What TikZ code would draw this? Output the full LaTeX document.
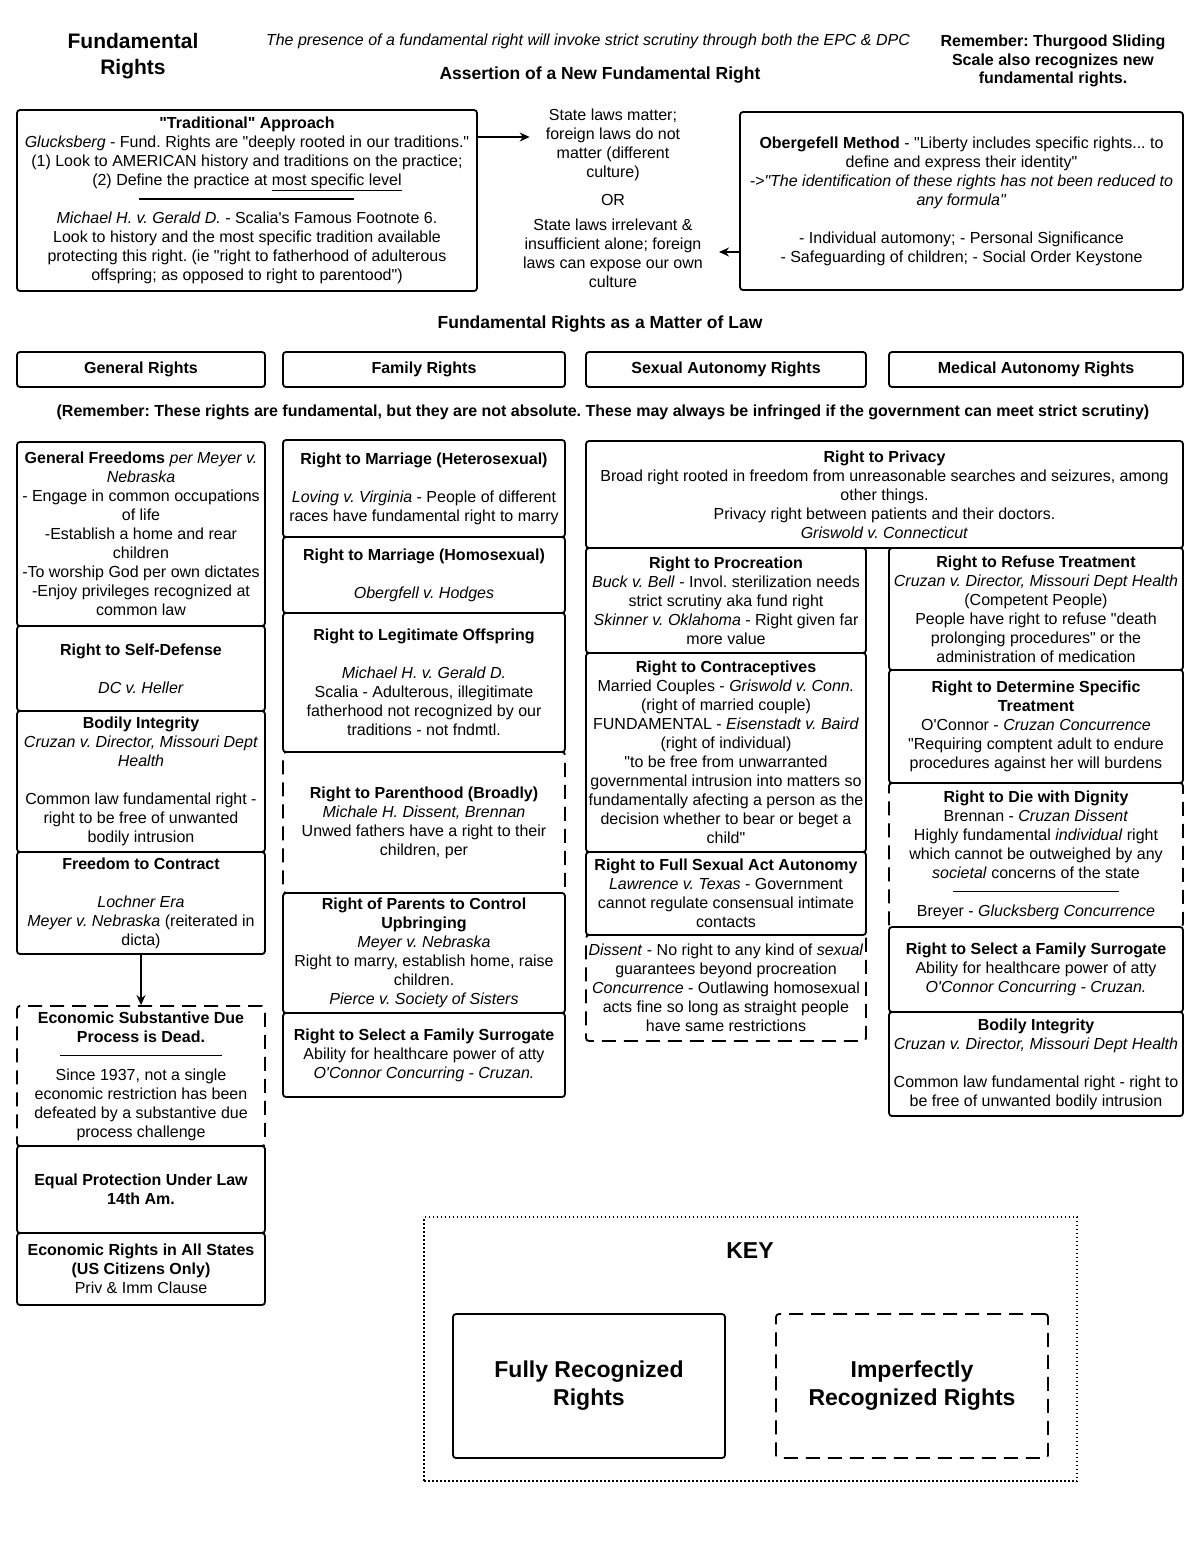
\documentclass[tikz,border=0pt]{standalone}
\usepackage{fontspec}
\setmainfont{Liberation Sans}[Ligatures=TeXOff]
\usetikzlibrary{arrows.meta}
\frenchspacing
\newcommand{\mybody}{\fontsize{16}{19}\selectfont}
\newcommand{\mysep}[1]{\rule[5pt]{#1}{1.2pt}}
\tikzset{
  box/.style={draw, line width=1.8pt, rounded corners=3pt, align=center, inner sep=2pt, font=\mybody},
  dbox/.style={box, dash pattern=on 14pt off 8pt},
  hdrbox/.style={box, font=\mybody\bfseries},
  txt/.style={align=center, inner sep=0pt, font=\mybody},
  arr/.style={line width=1.6pt, -{Stealth[length=10pt,width=9pt]}},
}
\begin{document}
\begin{tikzpicture}[x=1pt,y=-1pt]
\useasboundingbox (0,0) rectangle (1200,1553);
\fill[white] (0,0) rectangle (1200,1553);

% ---------- top ----------
\node[txt, font=\fontsize{21}{26}\selectfont\bfseries] (title) at (133,56) {Fundamental\\Rights};
\node[txt, font=\mybody\itshape] (intro) at (588,41) {The presence of a fundamental right will invoke strict scrutiny through both the EPC \& DPC};
\node[txt, font=\fontsize{17.5}{21}\selectfont\bfseries] (assert) at (600,75) {Assertion of a New Fundamental Right};
\node[txt, font=\fontsize{16}{18.5}\selectfont\bfseries] (thur) at (1053,61) {Remember: Thurgood Sliding\\Scale also recognizes new\\fundamental rights.};

\node[box, minimum width=460pt, minimum height=181pt] (trad) at (247,200.5) {%
\textbf{"Traditional" Approach}\\
\textit{Glucksberg} - Fund. Rights are "deeply rooted in our traditions."\\
(1) Look to AMERICAN history and traditions on the practice;\\
(2) Define the practice at \underline{most specific level}\\
\mysep{215pt}\\
\textit{Michael H. v. Gerald D.} - Scalia's Famous Footnote 6.\\
Look to history and the most specific tradition available\\
protecting this right. (ie "right to fatherhood of adulterous\\
offspring; as opposed to right to parentood")};

\node[txt, inner xsep=16pt] (m1) at (613,144.5) {State laws matter;\\foreign laws do not\\matter (different\\culture)};
\node[txt] (orn) at (613,200) {OR};
\node[txt, inner xsep=16pt] (m2) at (613,253.5) {State laws irrelevant \&\\insufficient alone; foreign\\laws can expose our own\\culture};

\node[box, minimum width=443pt, minimum height=178pt] (ob) at (961.5,201) {%
\textbf{Obergefell Method} - "Liberty includes specific rights... to\\
define and express their identity"\\
\textit{->"The identification of these rights has not been reduced to}\\
\textit{any formula"}\\[19pt]
- Individual automony; - Personal Significance\\
- Safeguarding of children; - Social Order Keystone};

\coordinate (a1) at (0,137);
\coordinate (a2) at (0,252);
\draw[arr] (trad.east |- a1) -- (m1.west |- a1);
\draw[arr] (ob.west |- a2) -- (m2.east |- a2);

% ---------- section ----------
\node[txt, font=\fontsize{17.5}{21}\selectfont\bfseries] (law) at (600,324) {Fundamental Rights as a Matter of Law};
\node[hdrbox, minimum width=248pt, minimum height=35pt] (hgen) at (141,369.5) {General Rights};
\node[hdrbox, minimum width=282pt, minimum height=35pt] (hfam) at (424,369.5) {Family Rights};
\node[hdrbox, minimum width=280pt, minimum height=35pt] (hsex) at (726,369.5) {Sexual Autonomy Rights};
\node[hdrbox, minimum width=294pt, minimum height=35pt] (hmed) at (1036,369.5) {Medical Autonomy Rights};
\node[txt, font=\mybody\bfseries] (rem) at (603,412) {(Remember: These rights are fundamental, but they are not absolute. These may always be infringed if the government can meet strict scrutiny)};

% ---------- column 1 ----------
\node[box, minimum width=248pt, minimum height=184pt] (gf) at (141,534) {%
\textbf{General Freedoms} \textit{per Meyer v.}\\
\textit{Nebraska}\\
- Engage in common occupations\\
of life\\
-Establish a home and rear\\
children\\
-To worship God per own dictates\\
-Enjoy privileges recognized at\\
common law};
\node[box, minimum width=248pt, minimum height=85pt] (sd) at (141,668.5) {%
\textbf{Right to Self-Defense}\\[19pt]
\textit{DC v. Heller}};
\node[box, minimum width=248pt, minimum height=141pt] (bi1) at (141,781.5) {%
\textbf{Bodily Integrity}\\
\textit{Cruzan v. Director, Missouri Dept}\\
\textit{Health}\\[19pt]
Common law fundamental right -\\
right to be free of unwanted\\
bodily intrusion};
\node[box, minimum width=248pt, minimum height=102pt] (fc) at (141,903) {%
\textbf{Freedom to Contract}\\[19pt]
\textit{Lochner Era}\\
\textit{Meyer v. Nebraska} (reiterated in\\
dicta)};
\node[dbox, minimum width=248pt, minimum height=140pt] (esdp) at (141,1076) {%
\textbf{Economic Substantive Due}\\
\textbf{Process is Dead.}\\
\mysep{162pt}\\
Since 1937, not a single\\
economic restriction has been\\
defeated by a substantive due\\
process challenge};
\node[box, minimum width=248pt, minimum height=87pt] (ep) at (141,1189.5) {%
\textbf{Equal Protection Under Law}\\
\textbf{14th Am.}};
\node[box, minimum width=248pt, minimum height=72pt] (er) at (141,1269) {%
\textbf{Economic Rights in All States}\\
\textbf{(US Citizens Only)}\\
Priv \& Imm Clause};
\draw[arr] (fc.south) -- (esdp.north);

% ---------- column 2 ----------
\node[box, minimum width=282pt, minimum height=97pt] (mh) at (424,488.5) {%
\textbf{Right to Marriage (Heterosexual)}\\[19pt]
\textit{Loving v. Virginia} - People of different\\
races have fundamental right to marry};
\node[box, minimum width=282pt, minimum height=76pt] (mho) at (424,575) {%
\textbf{Right to Marriage (Homosexual)}\\[19pt]
\textit{Obergfell v. Hodges}};
\node[box, minimum width=282pt, minimum height=139pt] (lo) at (424,682.5) {%
\textbf{Right to Legitimate Offspring}\\[19pt]
\textit{Michael H. v. Gerald D.}\\
Scalia - Adulterous, illegitimate\\
fatherhood not recognized by our\\
traditions - not fndmtl.};
\node[dbox, minimum width=282pt, minimum height=141pt] (ph) at (424,822.5) {%
\textbf{Right to Parenthood (Broadly)}\\
\textit{Michale H. Dissent, Brennan}\\
Unwed fathers have a right to their\\
children, per};
\node[box, minimum width=282pt, minimum height=120pt] (pc) at (424,953) {%
\textbf{Right of Parents to Control}\\
\textbf{Upbringing}\\
\textit{Meyer v. Nebraska}\\
Right to marry, establish home, raise\\
children.\\
\textit{Pierce v. Society of Sisters}};
\node[box, minimum width=282pt, minimum height=84pt] (fs1) at (424,1055) {%
\textbf{Right to Select a Family Surrogate}\\
Ability for healthcare power of atty\\
\textit{O'Connor Concurring - Cruzan.}};

% ---------- privacy ----------
\node[box, minimum width=597pt, minimum height=107pt] (priv) at (884.5,494.5) {%
\textbf{Right to Privacy}\\
Broad right rooted in freedom from unreasonable searches and seizures, among\\
other things.\\
Privacy right between patients and their doctors.\\
\textit{Griswold v. Connecticut}};

% ---------- column 3 ----------
\node[box, minimum width=280pt, minimum height=105pt] (pr) at (726,600.5) {%
\textbf{Right to Procreation}\\
\textit{Buck v. Bell} - Invol. sterilization needs\\
strict scrutiny aka fund right\\
\textit{Skinner v. Oklahoma} - Right given far\\
more value};
\node[box, minimum width=280pt, minimum height=199pt] (ct) at (726,752.5) {%
\textbf{Right to Contraceptives}\\
Married Couples - \textit{Griswold v. Conn.}\\
(right of married couple)\\
FUNDAMENTAL - \textit{Eisenstadt v. Baird}\\
(right of individual)\\
"to be free from unwarranted\\
governmental intrusion into matters so\\
fundamentally afecting a person as the\\
decision whether to bear or beget a\\
child"};
\node[box, minimum width=280pt, minimum height=83pt] (fa) at (726,893.5) {%
\textbf{Right to Full Sexual Act Autonomy}\\
\textit{Lawrence v. Texas} - Government\\
cannot regulate consensual intimate\\
contacts};
\node[dbox, minimum width=280pt, minimum height=106pt] (ds) at (726,988) {%
\textit{Dissent} - No right to any kind of \textit{sexual}\\
guarantees beyond procreation\\
\textit{Concurrence} - Outlawing homosexual\\
acts fine so long as straight people\\
have same restrictions};

% ---------- column 4 ----------
\node[box, minimum width=294pt, minimum height=122pt] (rt) at (1036,609) {%
\textbf{Right to Refuse Treatment}\\
\textit{Cruzan v. Director, Missouri Dept Health}\\
(Competent People)\\
People have right to refuse "death\\
prolonging procedures" or the\\
administration of medication};
\node[box, minimum width=294pt, minimum height=113pt] (dt) at (1036,726.5) {%
\textbf{Right to Determine Specific}\\
\textbf{Treatment}\\
O'Connor - \textit{Cruzan Concurrence}\\
"Requiring comptent adult to endure\\
procedures against her will burdens};
\node[dbox, minimum width=294pt, minimum height=144pt] (dd) at (1036,855) {%
\textbf{Right to Die with Dignity}\\
Brennan - \textit{Cruzan Dissent}\\
Highly fundamental \textit{individual} right\\
which cannot be outweighed by any\\
\textit{societal} concerns of the state\\
\mysep{166pt}\\
Breyer - \textit{Glucksberg Concurrence}};
\node[box, minimum width=294pt, minimum height=85pt] (fs2) at (1036,969.5) {%
\textbf{Right to Select a Family Surrogate}\\
Ability for healthcare power of atty\\
\textit{O'Connor Concurring - Cruzan.}};
\node[box, minimum width=294pt, minimum height=104pt] (bi2) at (1036,1064) {%
\textbf{Bodily Integrity}\\
\textit{Cruzan v. Director, Missouri Dept Health}\\[19pt]
Common law fundamental right - right to\\
be free of unwanted bodily intrusion};

% ---------- key ----------
\node[draw, line width=1.6pt, dash pattern=on 1.5pt off 2.5pt, minimum width=653pt, minimum height=264pt, inner sep=0pt] (key) at (750.5,1349) {};
\node[txt, font=\fontsize{23}{28}\selectfont\bfseries] (keyt) at (750,1251) {KEY};
\node[box, font=\fontsize{23}{28}\selectfont\bfseries, minimum width=272pt, minimum height=144pt] (kfull) at (589,1386) {Fully Recognized\\Rights};
\node[dbox, font=\fontsize{23}{28}\selectfont\bfseries, minimum width=272pt, minimum height=144pt] (kimp) at (912,1386) {Imperfectly\\Recognized Rights};
\end{tikzpicture}
\end{document}
